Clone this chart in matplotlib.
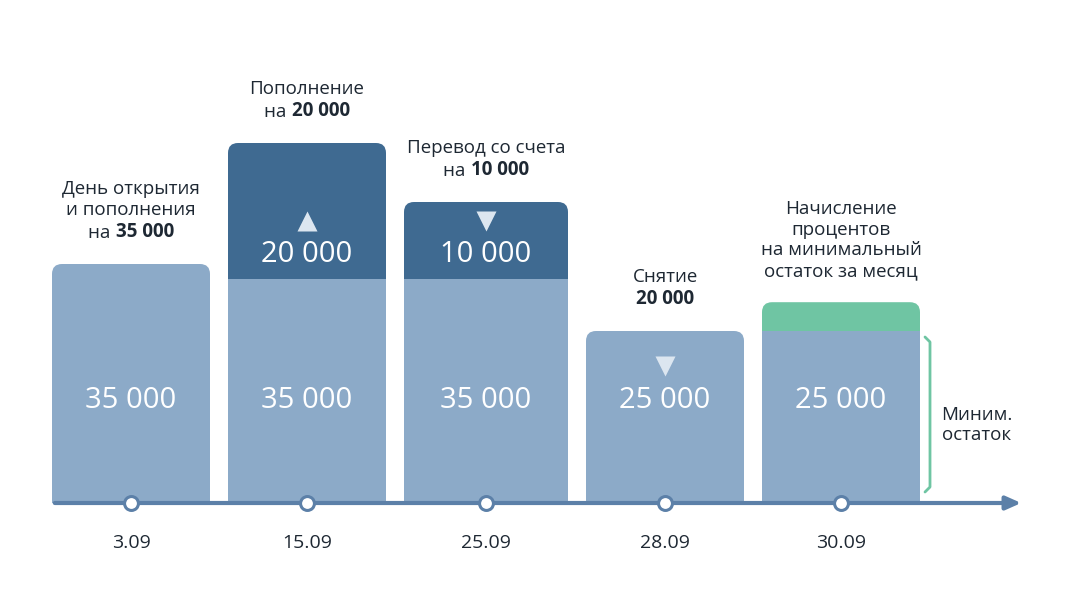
import matplotlib
matplotlib.use("Agg")
import matplotlib.pyplot as plt
from matplotlib.patches import FancyBboxPatch, Rectangle

plt.rcParams["font.family"] = "Open Sans"

# data
dates = ["3.09", "15.09", "25.09", "28.09", "30.09"]
base_values = [35000, 35000, 35000, 25000, 25000]
change_values = [0, 20000, 10000, 0, 0]
change_dirs = [None, "up", "down", "down", None]
interest_value = 4500  # schematic height of the interest block
notes = [
    ("День открытия\nи пополнения", "на ", "35 000"),
    ("Пополнение", "на ", "20 000"),
    ("Перевод со счета", "на ", "10 000"),
    ("Снятие", "", "20 000"),
    ("Начисление\nпроцентов\nна минимальный\nостаток за месяц", None, None),
]

LIGHT = "#8caac8"
DARK = "#3f6a91"
GREEN = "#6fc5a3"
AXIS = "#5c80a8"
TEXT = "#1e2833"

W, H = 1069, 601
PX = 156.25            # value units per pixel
BASE_PX = 503
centers = [131, 307, 486, 665, 841]
widths = [158, 158, 164, 158, 158]
pads = [15, 8, 13, 12, 12]   # extra visual padding on top of each bar

fig = plt.figure(figsize=(W / 100, H / 100), dpi=100)
ax = fig.add_axes([0, 0, 1, 1])
ax.set_xlim(0, W)
ax.set_ylim(-(H - BASE_PX) * PX, BASE_PX * PX)
ax.axis("off")


def rbar(x0, w, y0, y1, color, z=2):
    r = 10
    ax.add_patch(FancyBboxPatch((x0 + r, y0 + r * PX), w - 2 * r, (y1 - y0) - 2 * r * PX,
                                boxstyle=f"round,pad={r}", mutation_aspect=PX,
                                fc=color, ec="none", zorder=z))
    ax.add_patch(Rectangle((x0, y0), w, (y1 - y0) / 2, fc=color, ec="none", zorder=z))


def note(cx, top, lines, pre, bold):
    fs = 13.5
    lh = 23 * PX
    has_bold = bold is not None
    y = top + (lh if has_bold else 0)
    ax.text(cx, y, lines, ha="center", va="bottom", fontsize=fs, color=TEXT,
            linespacing=1.2, zorder=5)
    if has_bold:
        fig.canvas.draw()
        r = fig.canvas.get_renderer()
        t1 = ax.text(0, top, pre, fontsize=fs, color=TEXT, va="bottom")
        t2 = ax.text(0, top, bold, fontsize=fs, color=TEXT, va="bottom", fontweight="bold")
        w1 = t1.get_window_extent(r).width
        w2 = t2.get_window_extent(r).width
        start = cx - (w1 + w2) / 2
        t1.set_x(start)
        t2.set_x(start + w1)


for i in range(5):
    cx, w = centers[i], widths[i]
    x0 = cx - w / 2
    b = base_values[i]
    light_top = b + (0 if change_values[i] else pads[i] * PX)
    if change_values[i]:
        top = b + change_values[i] + pads[i] * PX
        rbar(x0, w, b - 20 * PX, top, DARK)
        ax.add_patch(Rectangle((x0, 0), w, b, fc=LIGHT, ec="none", zorder=3))
    elif i == 4:
        top = light_top + interest_value
        rbar(x0, w, light_top - 20 * PX, top, GREEN)
        ax.add_patch(Rectangle((x0, 0), w, light_top, fc=LIGHT, ec="none", zorder=3))
    else:
        top = light_top
        rbar(x0, w, 0, top, LIGHT)
    ax.text(cx, 103 * PX, f"{b:,}".replace(",", " "), ha="center", va="center",
            fontsize=21, color="white", zorder=6)
    if change_values[i]:
        ax.text(cx, 248 * PX, f"{change_values[i]:,}".replace(",", " "),
                ha="center", va="center", fontsize=21, color="white", zorder=6)
    if change_dirs[i]:
        ty = 282 * PX if change_values[i] else 137 * PX
        ax.plot(cx, ty, marker="^" if change_dirs[i] == "up" else "v", ms=14,
                color="#dce6f0", mec="none", zorder=6)
    note(cx, top + 22 * PX, notes[i][0], notes[i][1], notes[i][2])
    ax.text(cx, -40 * PX, dates[i], ha="center", va="center", fontsize=14, color=TEXT)

# axis line with arrow
ax.annotate("", xy=(1024, 0), xytext=(52, 0),
            arrowprops=dict(arrowstyle="-|>,head_length=0.9,head_width=0.4",
                            color=AXIS, lw=3), zorder=7)
ax.plot(centers, [0] * 5, "o", ms=10, mfc="white", mec=AXIS, mew=2.2, zorder=8)

# bracket for minimum balance
by0, by1 = 11 * PX, 166 * PX
ax.plot([925, 930, 930, 925], [by1, by1 - 5 * PX, by0 + 5 * PX, by0],
        color=GREEN, lw=2, solid_capstyle="round", zorder=5)
ax.text(977, 78 * PX, "Миним.\nостаток", ha="center", va="center", fontsize=13.5,
        color=TEXT, linespacing=1.2)

fig.savefig("out.png", dpi=100, facecolor="white")
